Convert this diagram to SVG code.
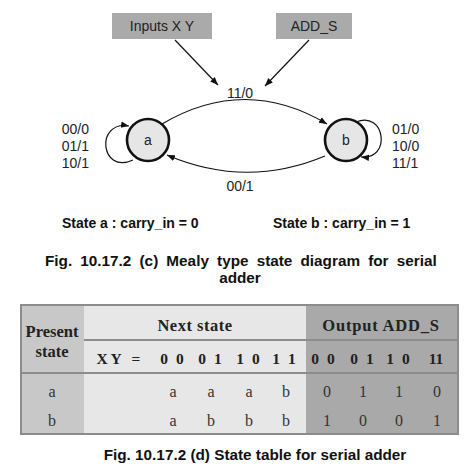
<svg xmlns="http://www.w3.org/2000/svg" width="474" height="475" viewBox="0 0 474 475">
<defs>
<marker id="ah" viewBox="0 0 10 10" refX="10" refY="5" markerWidth="8" markerHeight="8" markerUnits="userSpaceOnUse" orient="auto">
<path d="M0,1 L10,5 L0,9 z" fill="#111"/>
</marker>
</defs>
<style>
.lbl{font-family:"Liberation Sans",Arial,sans-serif;font-size:14px;fill:#222}
.box{fill:#aaaaaa}
.st{fill:#e6e6e6;stroke:#111;stroke-width:2.6}
.edge{fill:none;stroke:#111;stroke-width:1.2;marker-end:url(#ah)}
.bold{font-family:"Liberation Sans",Arial,sans-serif;font-size:14px;font-weight:bold;fill:#111}
.cap{font-family:"Liberation Sans",Arial,sans-serif;font-size:15.3px;font-weight:bold;fill:#111}
.th{font-family:"Liberation Serif","Times New Roman",serif;font-size:16.5px;font-weight:bold;fill:#222}
.tx{font-family:"Liberation Serif","Times New Roman",serif;font-size:15.5px;font-weight:bold;fill:#222;text-anchor:middle}
.td{font-family:"Liberation Serif","Times New Roman",serif;font-size:16px;fill:#333;text-anchor:middle}
.rule{stroke:#8c8c8c;stroke-width:2}
</style>
<rect width="474" height="475" fill="#ffffff"/>

<g id="inputs">
<rect class="box" x="112" y="13" width="100" height="26"/>
<text class="lbl" x="162" y="31" text-anchor="middle">Inputs X Y</text>
</g>
<g id="add_s">
<rect class="box" x="276" y="13" width="76" height="26"/>
<text class="lbl" x="314" y="31" text-anchor="middle">ADD_S</text>
</g>

<g id="connectors">
<line class="edge" x1="175" y1="40" x2="218" y2="85"/>
<line class="edge" x1="309" y1="40" x2="265" y2="86"/>
<path class="edge" d="M162,124 Q245,75 327,124"/>
<path class="edge" d="M325,156 Q246,189 167,155"/>
<path class="edge" d="M133,160 C100,175 95,120 129,126"/>
<path class="edge" d="M356,122 C385,110 392,160 361,157"/>
</g>

<g id="edge-labels">
<text class="lbl" x="240" y="98" text-anchor="middle">11/0</text>
<text class="lbl" x="240" y="191" text-anchor="middle">00/1</text>
<text class="lbl" x="89" y="134" text-anchor="end">00/0</text>
<text class="lbl" x="89" y="151" text-anchor="end">01/1</text>
<text class="lbl" x="89" y="168" text-anchor="end">10/1</text>
<text class="lbl" x="392" y="134">01/0</text>
<text class="lbl" x="392" y="151">10/0</text>
<text class="lbl" x="392" y="168">11/1</text>
</g>

<g id="state-a">
<circle class="st" cx="148" cy="140" r="21"/>
<text class="lbl" x="148" y="145" text-anchor="middle">a</text>
</g>
<g id="state-b">
<circle class="st" cx="346" cy="140" r="21"/>
<text class="lbl" x="346" y="145" text-anchor="middle">b</text>
</g>

<text class="bold" x="62" y="228">State a : carry_in = 0</text>
<text class="bold" x="273" y="228">State b : carry_in = 1</text>
<text class="cap" x="45" y="266" style="word-spacing:3.9px">Fig. 10.17.2 (c) Mealy type state diagram for serial</text>
<text class="cap" x="240" y="283" text-anchor="middle">adder</text>

<g id="table">
<rect x="21" y="305" width="63" height="129" fill="#c8c8c8"/>
<rect x="84" y="305" width="222" height="129" fill="#e7e7e7"/>
<rect x="306" y="305" width="152" height="129" fill="#a9a9a9"/>
<line class="rule" x1="84" y1="340" x2="458" y2="340"/>
<line class="rule" x1="21" y1="373" x2="458" y2="373"/>
<rect x="21" y="305" width="437" height="129" fill="none" stroke="#8c8c8c" stroke-width="2"/>

<text class="th" x="52" y="337" text-anchor="middle">Present</text>
<text class="th" x="52" y="357" text-anchor="middle">state</text>
<text class="th" x="195" y="331" text-anchor="middle" style="letter-spacing:0.5px">Next state</text>
<text class="th" x="381" y="331" text-anchor="middle" style="letter-spacing:0.8px">Output ADD_S</text>

<text class="tx" x="102" y="364">X</text>
<text class="tx" x="116" y="364">Y</text>
<text class="tx" x="136" y="364">=</text>
<text class="tx" x="173" y="364" style="letter-spacing:2px">0 0</text>
<text class="tx" x="211" y="364" style="letter-spacing:2px">0 1</text>
<text class="tx" x="249" y="364" style="letter-spacing:2px">1 0</text>
<text class="tx" x="285" y="364" style="letter-spacing:2px">1 1</text>
<text class="tx" x="324" y="364" style="letter-spacing:2px">0 0</text>
<text class="tx" x="363" y="364" style="letter-spacing:2px">0 1</text>
<text class="tx" x="399" y="364" style="letter-spacing:2px">1 0</text>
<text class="tx" x="436" y="364">11</text>

<text class="td" x="52" y="397">a</text>
<text class="td" x="173" y="397">a</text>
<text class="td" x="211" y="397">a</text>
<text class="td" x="249" y="397">a</text>
<text class="td" x="286" y="397">b</text>
<text class="td" x="327" y="397">0</text>
<text class="td" x="363" y="397">1</text>
<text class="td" x="399" y="397">1</text>
<text class="td" x="437" y="397">0</text>

<text class="td" x="52" y="426">b</text>
<text class="td" x="173" y="426">a</text>
<text class="td" x="211" y="426">b</text>
<text class="td" x="249" y="426">b</text>
<text class="td" x="286" y="426">b</text>
<text class="td" x="327" y="426">1</text>
<text class="td" x="363" y="426">0</text>
<text class="td" x="399" y="426">0</text>
<text class="td" x="437" y="426">1</text>
</g>

<text class="cap" x="255" y="460" text-anchor="middle">Fig. 10.17.2 (d) State table for serial adder</text>
</svg>
